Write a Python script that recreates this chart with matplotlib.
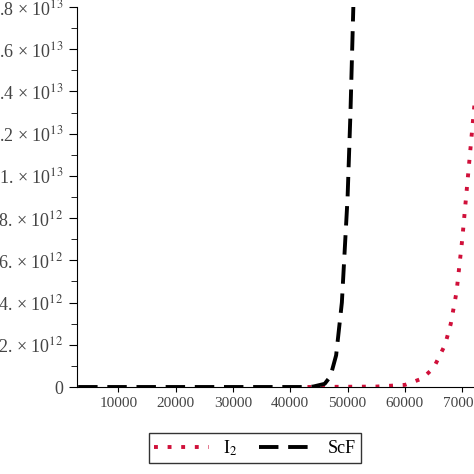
import matplotlib.pyplot as plt

lam_scf = [3000, 42000, 44000, 46000, 47000, 48000, 49000, 50000, 50500, 51000, 51300]
val_scf = [0, 0, 0.02e12, 0.15e12, 0.5e12, 1.5e12, 4e12, 9e12, 13e12, 18e12, 20e12]
lam_i2 = [43000, 55000, 60000, 63000, 65000, 67000, 68000, 69000, 70000, 71000, 72000, 73000]
val_i2 = [0, 0.02e12, 0.1e12, 0.4e12, 0.9e12, 2e12, 3e12, 4.5e12, 7e12, 10e12, 13e12, 16e12]

yticks = [0, 2e12, 4e12, 6e12, 8e12, 1e13, 1.2e13, 1.4e13, 1.6e13, 1.8e13]
ylabels = ["0", "2. × 10$^{12}$", "4. × 10$^{12}$", "6. × 10$^{12}$", "8. × 10$^{12}$",
           "1. × 10$^{13}$", "1.2 × 10$^{13}$", "1.4 × 10$^{13}$", "1.6 × 10$^{13}$", "1.8 × 10$^{13}$"]
xticks = [10000, 20000, 30000, 40000, 50000, 60000, 70000]

plt.rcParams['font.family'] = ['Liberation Serif', 'DejaVu Serif']
plt.rcParams['mathtext.fontset'] = 'stix'
fig = plt.figure(figsize=(4.74, 4.74), dpi=100)
# axes run past the right edge of the picture, as in the cropped reference
ax = fig.add_axes([77/474, 87/474, (1100-77)/474, 380/474])
ax.plot(lam_i2, val_i2, color='#d0103a', ls=(0, (1, 2.5)), lw=2.8, label='I$_2$')
ax.plot(lam_scf, val_scf, color='black', ls=(0, (5, 2.5)), lw=2.8, label='ScF')
ax.set_xlim(2800, 2800 + (1100-77) / 5.733 * 1000)
ax.set_ylim(0, 1.8e13)
ax.set_yticks(yticks)
ax.set_yticklabels(ylabels, color='#444444', fontsize=13)
ax.set_yticks([1e12 * k for k in range(1, 18, 2)], minor=True)
ax.set_xticks(xticks)
ax.set_xticklabels([str(x) for x in xticks], color='#444444', fontsize=11)
ax.tick_params(axis='y', which='major', length=6, pad=4)
ax.tick_params(axis='y', which='minor', length=4)
for s in ['top', 'right']:
    ax.spines[s].set_visible(False)
ax.set_xlabel('λ', fontsize=13, fontweight='bold', fontstyle='italic', labelpad=1)
fig.legend(loc='lower left', bbox_to_anchor=(140/474, 2/474), ncol=2, fancybox=False,
           edgecolor='black', fontsize=13, handlelength=3, borderpad=0.3, columnspacing=1.2)
fig.savefig('out.png', dpi=100)
